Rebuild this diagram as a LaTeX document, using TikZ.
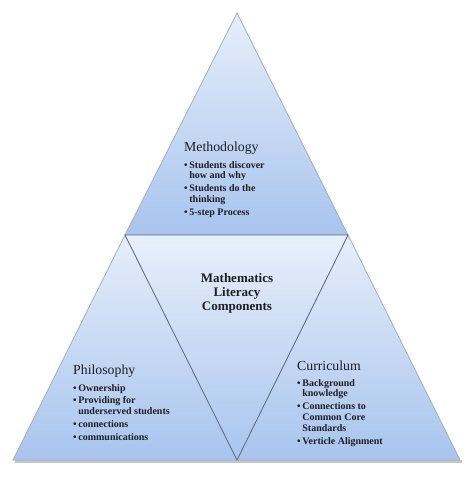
\documentclass[tikz,border=0pt]{standalone}
\usepackage{fontspec}
\setmainfont{Liberation Serif}
\usepackage{tikz}
\usetikzlibrary{positioning}
\usepackage{xcolor}
\definecolor{PaleBlue}{HTML}{E6EEFA}
\definecolor{DeepBlue}{HTML}{A8C4EE}
\definecolor{EdgeGray}{HTML}{A3AEBF}
\definecolor{InnerGray}{HTML}{5D6C82}
\definecolor{TextDark}{HTML}{1E1E24}

\begin{document}
\begin{tikzpicture}[
        x=1pt, y=-1pt,
        facet/.style={top color=PaleBlue, bottom color=DeepBlue, draw=EdgeGray, line width=0.8pt, line join=miter},
        heading/.style={anchor=west, inner sep=0pt, text=TextDark, font=\fontsize{13.8}{15}\selectfont},
        points/.style={anchor=north west, inner sep=0pt, align=left, text=TextDark, font=\fontsize{10}{10.8}\selectfont\bfseries},
        hub/.style={align=center, inner sep=0pt, text=TextDark, font=\fontsize{13}{14}\selectfont\bfseries}
    ]
        \useasboundingbox (0,0) rectangle (474,480);
        \coordinate (apex) at (237,13);
        \coordinate (midL) at (125,235);
        \coordinate (midR) at (348,235);
        \coordinate (baseL) at (13,460);
        \coordinate (baseM) at (237,460);
        \coordinate (baseR) at (460,460);

        % shadow under the base
        \fill [gray!45] (15,460) rectangle (462,463);

        \shade [facet] (apex) -- (midR) -- (midL) -- cycle;
        \shade [facet] (midL) -- (baseM) -- (baseL) -- cycle;
        \shade [facet] (midR) -- (baseR) -- (baseM) -- cycle;
        \shade [facet, draw=InnerGray, top color=PaleBlue!90!white] (midL) -- (midR) -- (baseM) -- cycle;

        \node [heading] (method) at (184,148) {Methodology};
        \node [points] (methodpts) at (184,161) {\textbullet\,Students discover\\\hphantom{\textbullet\,}how and why\\[2pt]\textbullet\,Students do the\\\hphantom{\textbullet\,}thinking\\[2pt]\textbullet\,5-step Process};

        \node [hub] (core) at (237,293) {Mathematics\\Literacy\\Components};

        \node [heading] (philo) at (73,371) {Philosophy};
        \node [points] (philopts) at (73,384) {\textbullet\,Ownership\\[2pt]\textbullet\,Providing for\\\hphantom{\textbullet\,}underserved students\\[2pt]\textbullet\,connections\\[2pt]\textbullet\,communications};

        \node [heading] (curric) at (297,366) {Curriculum};
        \node [points] (curricpts) at (297,379) {\textbullet\,Background\\\hphantom{\textbullet\,}knowledge\\[2pt]\textbullet\,Connections to\\\hphantom{\textbullet\,}Common Core\\\hphantom{\textbullet\,}Standards\\[2pt]\textbullet\,Verticle Alignment};
    \end{tikzpicture}
\end{document}
